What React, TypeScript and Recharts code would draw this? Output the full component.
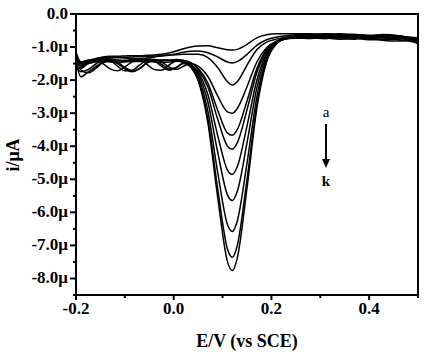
import { LineChart, Line, XAxis, YAxis, ReferenceArea } from 'recharts';

// potential (V vs SCE) and current (μA) for the eleven scans a..k
const potential = [
  -0.2, -0.19, -0.175, -0.16, -0.145, -0.13, -0.115, -0.1, -0.085, -0.07, -0.055, -0.04, -0.025, -0.01, 0.005, 0.02, 0.035,
  0.05, 0.07, 0.09, 0.11, 0.12, 0.13, 0.15, 0.17, 0.19, 0.21, 0.23,
  0.25, 0.28, 0.31, 0.34, 0.37, 0.4, 0.43, 0.46, 0.48, 0.5,
];

const curveA = [
  -1.15, -1.45, -1.4, -1.35, -1.3, -1.28, -1.28, -1.27, -1.26, -1.26, -1.25, -1.24, -1.22, -1.18, -1.12, -1.05, -1.0,
  -0.97, -0.96, -1.02, -1.08, -1.09, -1.07, -0.92, -0.72, -0.63, -0.6, -0.6,
  -0.6, -0.6, -0.62, -0.63, -0.62, -0.64, -0.66, -0.68, -0.7, -0.72,
];
const curveB = [
  -1.25, -1.55, -1.45, -1.38, -1.33, -1.3, -1.3, -1.31, -1.3, -1.29, -1.28, -1.27, -1.26, -1.24, -1.2, -1.16, -1.13,
  -1.12, -1.17, -1.3, -1.45, -1.48, -1.44, -1.22, -0.95, -0.78, -0.7, -0.66,
  -0.63, -0.62, -0.6, -0.62, -0.66, -0.66, -0.64, -0.66, -0.7, -0.74,
];
const curveC = [
  -1.35, -1.6, -1.5, -1.42, -1.36, -1.33, -1.32, -1.33, -1.35, -1.35, -1.33, -1.3, -1.27, -1.25, -1.23, -1.22, -1.22,
  -1.22, -1.32, -1.62, -2.05, -2.15, -2.05, -1.55, -1.08, -0.85, -0.76, -0.7,
  -0.66, -0.64, -0.62, -0.6, -0.63, -0.68, -0.7, -0.68, -0.7, -0.76,
];
const curveD = [
  -1.45, -1.9, -1.75, -1.6, -1.45, -1.38, -1.45, -1.62, -1.72, -1.65, -1.48, -1.38, -1.45, -1.6, -1.68, -1.58, -1.5,
  -1.58, -1.89, -2.48, -2.96, -3.0, -2.86, -2.2, -1.46, -1.02, -0.82, -0.74,
  -0.7, -0.66, -0.63, -0.64, -0.68, -0.66, -0.62, -0.66, -0.74, -0.78,
];
const curveE = [
  -1.3, -1.5, -1.42, -1.38, -1.36, -1.37, -1.4, -1.42, -1.4, -1.37, -1.36, -1.38, -1.4, -1.4, -1.38, -1.4, -1.47,
  -1.64, -2.09, -2.91, -3.6, -3.67, -3.5, -2.63, -1.66, -1.08, -0.83, -0.74,
  -0.7, -0.68, -0.66, -0.64, -0.62, -0.66, -0.72, -0.74, -0.72, -0.78,
];
const curveF = [
  -1.55, -1.75, -1.68, -1.52, -1.4, -1.42, -1.58, -1.72, -1.7, -1.55, -1.4, -1.42, -1.58, -1.7, -1.62, -1.48, -1.48,
  -1.68, -2.21, -3.18, -4.0, -4.09, -3.9, -2.9, -1.78, -1.12, -0.84, -0.74,
  -0.7, -0.7, -0.68, -0.66, -0.7, -0.74, -0.7, -0.66, -0.72, -0.8,
];
const curveG = [
  -1.4, -1.62, -1.5, -1.45, -1.42, -1.4, -1.4, -1.42, -1.44, -1.44, -1.42, -1.4, -1.39, -1.4, -1.42, -1.44, -1.53,
  -1.75, -2.44, -3.67, -4.72, -4.85, -4.62, -3.39, -2.01, -1.19, -0.85, -0.74,
  -0.7, -0.72, -0.7, -0.72, -0.76, -0.72, -0.68, -0.72, -0.78, -0.82,
];
const curveH = [
  -1.6, -1.65, -1.48, -1.4, -1.5, -1.66, -1.72, -1.6, -1.45, -1.4, -1.52, -1.68, -1.7, -1.55, -1.42, -1.45, -1.55,
  -1.82, -2.67, -4.18, -5.47, -5.64, -5.37, -3.9, -2.24, -1.26, -0.87, -0.74,
  -0.71, -0.72, -0.74, -0.7, -0.68, -0.72, -0.78, -0.76, -0.74, -0.84,
];
const curveI = [
  -1.5, -1.55, -1.45, -1.42, -1.43, -1.45, -1.46, -1.45, -1.43, -1.42, -1.43, -1.45, -1.46, -1.45, -1.43, -1.45, -1.58,
  -1.9, -2.95, -4.79, -6.37, -6.58, -6.27, -4.51, -2.52, -1.34, -0.88, -0.74,
  -0.72, -0.7, -0.72, -0.76, -0.74, -0.7, -0.72, -0.78, -0.82, -0.86,
];
const curveJ = [
  -1.2, -1.7, -1.78, -1.65, -1.48, -1.42, -1.5, -1.66, -1.75, -1.65, -1.48, -1.42, -1.52, -1.66, -1.62, -1.5, -1.6,
  -1.98, -3.18, -5.29, -7.11, -7.36, -7.01, -5.01, -2.75, -1.42, -0.9, -0.75,
  -0.72, -0.74, -0.7, -0.68, -0.72, -0.78, -0.76, -0.72, -0.78, -0.88,
];
const curveK = [
  -1.35, -1.45, -1.4, -1.38, -1.38, -1.4, -1.41, -1.4, -1.38, -1.37, -1.38, -1.4, -1.41, -1.4, -1.4, -1.45, -1.61,
  -2.01, -3.3, -5.55, -7.49, -7.76, -7.39, -5.27, -2.87, -1.45, -0.91, -0.75,
  -0.73, -0.72, -0.74, -0.72, -0.7, -0.74, -0.8, -0.82, -0.8, -0.9,
];

const curves: [string, number[]][] = [
  ['a', curveA], ['b', curveB], ['c', curveC], ['d', curveD], ['e', curveE], ['f', curveF],
  ['g', curveG], ['h', curveH], ['i', curveI], ['j', curveJ], ['k', curveK],
];

const xTicks = [-0.2, -0.1, 0, 0.1, 0.2, 0.3, 0.4, 0.5];
const xLabeled = [-0.2, 0, 0.2, 0.4];
const yTicks = [0, -0.5, -1, -1.5, -2, -2.5, -3, -3.5, -4, -4.5, -5, -5.5, -6, -6.5, -7, -7.5, -8, -8.5];

const rows = potential.map((E, idx) => {
  const row: Record<string, number> = { E };
  curves.forEach(([key, vals]) => {
    row[key] = vals[idx];
  });
  return row;
});

const font = '"Liberation Serif", "Times New Roman", serif';

function XTick(props: any) {
  const { x, y, payload } = props;
  const v = payload.value as number;
  const major = xLabeled.some((t) => Math.abs(t - v) < 1e-6);
  return (
    <g>
      <line x1={x} y1={y} x2={x} y2={y + (major ? 5 : 3)} stroke="#000" strokeWidth={2} />
      {major && (
        <text x={x} y={y + 19} textAnchor="middle" fontFamily={font} fontWeight="bold" fontSize={17} fill="#000">
          {v.toFixed(1)}
        </text>
      )}
    </g>
  );
}

function YTick(props: any) {
  const { x, y, payload } = props;
  const v = payload.value as number;
  const major = Math.abs(v - Math.round(v)) < 1e-6;
  return (
    <g>
      <line x1={x} y1={y} x2={x - (major ? 6 : 3)} y2={y} stroke="#000" strokeWidth={2} />
      {major && (
        <text x={x - 8} y={y + 5} textAnchor="end" fontFamily={font} fontWeight="bold" fontSize={17} fill="#000">
          {v === 0 ? '0.0' : `${v.toFixed(1)}μ`}
        </text>
      )}
    </g>
  );
}

export default function App() {
  return (
    <div style={{ position: 'absolute', left: 0, top: 0, width: 432, height: 356, background: '#fff' }}>
      <LineChart width={432} height={356} data={rows} margin={{ top: 14, right: 14, bottom: 0, left: 0 }}>
        <XAxis
          dataKey="E"
          type="number"
          domain={[-0.2, 0.5]}
          ticks={xTicks}
          interval={0}
          tick={(p: any) => <XTick {...p} />}
          tickSize={0}
          tickMargin={0}
          tickLine={false}
          axisLine={{ stroke: '#000', strokeWidth: 2 }}
          height={61}
        />
        <YAxis
          type="number"
          domain={[-8.5, 0]}
          ticks={yTicks}
          interval={0}
          tick={(p: any) => <YTick {...p} />}
          tickSize={0}
          tickMargin={0}
          tickLine={false}
          axisLine={{ stroke: '#000', strokeWidth: 2 }}
          width={76}
        />
        <ReferenceArea x1={-0.2} x2={0.5} y1={-8.5} y2={0} fill="none" stroke="#000" strokeWidth={2} />
        {curves.map(([key]) => (
          <Line
            key={key}
            dataKey={key}
            type="monotone"
            stroke="#000"
            strokeWidth={1.5}
            dot={false}
            isAnimationActive={false}
          />
        ))}
      </LineChart>
      <svg width={432} height={356} style={{ position: 'absolute', left: 0, top: 0, pointerEvents: 'none' }}>
        <text
          x={0}
          y={0}
          transform="translate(19,155) rotate(-90)"
          textAnchor="middle"
          fontFamily={font}
          fontWeight="bold"
          fontSize={18}
          fill="#000"
        >
          i/μA
        </text>
        <text x={247} y={347} textAnchor="middle" fontFamily={font} fontWeight="bold" fontSize={18} fill="#000">
          E/V (vs SCE)
        </text>
        <text x={326} y={117} textAnchor="middle" fontFamily={font} fontSize={15} fill="#000">
          a
        </text>
        <line x1={326} y1={124} x2={326} y2={160} stroke="#000" strokeWidth={2} />
        <polygon points="322,159 330,159 326,168" fill="#000" />
        <text x={326} y={186} textAnchor="middle" fontFamily={font} fontWeight="bold" fontSize={15} fill="#000">
          k
        </text>
      </svg>
    </div>
  );
}
